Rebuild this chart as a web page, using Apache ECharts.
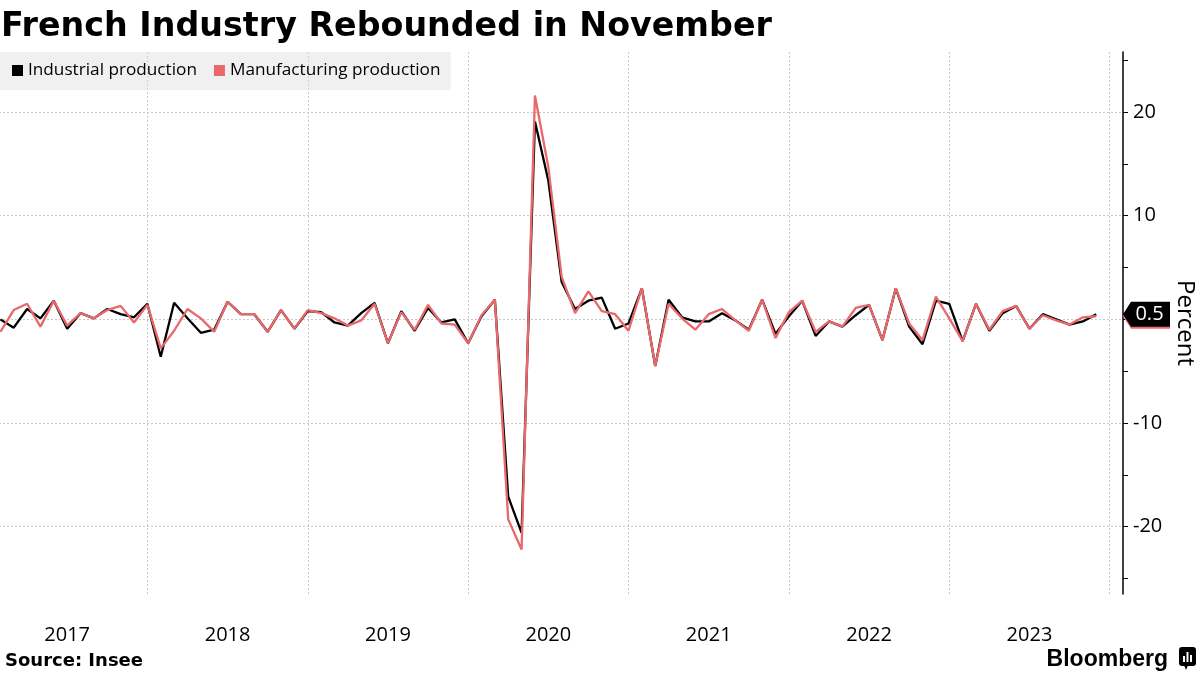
<!DOCTYPE html>
<html>
<head>
<meta charset="utf-8">
<script src="https://cdn.jsdelivr.net/npm/echarts@6/dist/echarts.min.js"></script>
<style>
  html, body { margin: 0; padding: 0; background: #fff; }
  #chart { width: 1200px; height: 675px; }
</style>
</head>
<body>
<div id="chart"></div>
<script>
// monthly % change, Jan 2017 .. Nov 2023
const years = [2017, 2018, 2019, 2020, 2021, 2022, 2023];
const industrial = [
  0.0, -0.8, 1.0, 0.1, 1.8, -0.9, 0.6, 0.1, 1.0, 0.5, 0.2, 1.5,
  -3.6, 1.6, 0.1, -1.3, -1.0, 1.7, 0.5, 0.5, -1.2, 0.9, -0.9, 0.8,
  0.7, -0.3, -0.6, 0.6, 1.6, -2.3, 0.8, -1.1, 1.1, -0.3, 0.0, -2.3,
  0.3, 1.9, -17.1, -20.6, 19.1, 13.4, 3.6, 1.0, 1.8, 2.1, -0.9, -0.4,
  3.0, -4.5, 1.9, 0.2, -0.2, -0.2, 0.6, -0.1, -1.0, 1.9, -1.4, 0.3,
  1.8, -1.6, -0.2, -0.7, 0.4, 1.4, -2.0, 3.0, -0.7, -2.4, 1.8, 1.5,
  -2.1, 1.5, -1.1, 0.6, 1.3, -0.9, 0.5, 0.0, -0.5, -0.2, 0.5
];
const manufacturing = [
  -1.2, 0.9, 1.5, -0.7, 1.8, -0.6, 0.6, 0.1, 0.9, 1.3, -0.3, 1.4,
  -2.8, -1.1, 1.0, 0.1, -1.2, 1.7, 0.5, 0.5, -1.2, 0.9, -0.9, 0.9,
  0.6, 0.1, -0.6, -0.1, 1.5, -2.3, 0.7, -1.0, 1.4, -0.4, -0.5, -2.3,
  0.4, 1.9, -19.3, -22.2, 21.6, 14.7, 4.1, 0.6, 2.7, 0.8, 0.5, -1.1,
  3.0, -4.5, 1.5, 0.1, -1.0, 0.5, 1.0, -0.1, -1.1, 1.9, -1.8, 0.7,
  1.8, -1.2, -0.2, -0.7, 1.1, 1.4, -2.0, 3.0, -0.4, -2.0, 2.2, 0.1,
  -2.1, 1.5, -1.0, 0.8, 1.3, -0.9, 0.4, -0.1, -0.5, 0.2, 0.3
];
const yTicks = [-25, -20, -15, -10, -5, 0, 5, 10, 15, 20, 25];

const BLACK = '#000000';
const PINK = '#e8686c';
const X_MAX = 85; // months since Jan 2017 (point k = end of month k)
const Y_MIN = -26.5, Y_MAX = 25.8;

const toPoints = (arr) => arr.map((v, i) => [i + 1, v]);
const last = (arr) => arr[arr.length - 1];

const tag = (color, value, z) => ({
  symbol: 'path://M0,12.5 L8,0 L47,0 L47,25 L8,25 Z',
  symbolSize: [47, 25],
  symbolOffset: [23.5, 0],
  z: z,
  itemStyle: { color: color },
  label: {
    show: true, position: 'inside', offset: [3, 0],
    color: '#fff', fontSize: 20, fontFamily: 'Open Sans',
    formatter: (p) => p.value.toFixed(1)
  },
  data: [{ coord: [X_MAX, value], value: value }]
});

const chart = echarts.init(document.getElementById('chart'));
const gridLine = { color: '#c9c9c9', width: 1, type: [2, 2] };

const option = {
  animation: false,
  backgroundColor: '#fff',
  title: [
    {
      text: 'French Industry Rebounded in November', left: 1, top: 11, padding: 0,
      textStyle: { fontFamily: 'DejaVu Sans', fontWeight: 'bold', fontSize: 33.3, color: '#000' }
    },
    {
      text: 'Source: Insee', left: 5, top: 652, padding: 0,
      textStyle: { fontFamily: 'DejaVu Sans', fontWeight: 'bold', fontSize: 18, color: '#000' }
    },
    {
      text: 'Bloomberg', right: 32, top: 648, padding: 0,
      textStyle: { fontFamily: 'Liberation Sans', fontWeight: 'bold', fontSize: 23, color: '#000' }
    }
  ],
  legend: {
    left: 0, top: 52,
    padding: [10, 10, 11, 12],
    backgroundColor: 'rgba(222,222,222,0.45)',
    itemWidth: 11, itemHeight: 11, itemGap: 17,
    icon: 'rect',
    textStyle: { fontFamily: 'Open Sans', fontSize: 17.2, color: '#000' },
    data: ['Industrial production', 'Manufacturing production']
  },
  grid: { left: -13, right: 77, top: 52, bottom: 81, outerBoundsMode: 'none' },
  xAxis: [
    {
      type: 'value', min: 0, max: X_MAX, interval: 6, position: 'bottom',
      axisLine: { show: false, onZero: false }, axisTick: { show: false }, splitLine: { show: false },
      axisLabel: {
        fontFamily: 'Open Sans', fontSize: 20, color: '#000', margin: 31,
        formatter: (v) => (v % 12 === 6 ? String(years[(v - 6) / 12]) : '')
      }
    },
    {
      type: 'value', min: 0, max: X_MAX, interval: 12, position: 'top',
      axisLine: { show: false, onZero: false }, axisTick: { show: false }, axisLabel: { show: false },
      splitLine: { show: true, showMinLine: false, showMaxLine: false, lineStyle: gridLine }
    }
  ],
  yAxis: [
    {
      type: 'value', position: 'right', min: Y_MIN, max: Y_MAX,
      name: 'Percent', nameLocation: 'middle', nameRotate: -90, nameGap: 50,
      nameTextStyle: { fontFamily: 'Open Sans', fontSize: 24, color: '#000' },
      axisLine: { show: true, onZero: false, lineStyle: { color: '#000', width: 1.5 } },
      axisTick: { show: false },
      axisLabel: {
        showMinLabel: false, showMaxLabel: false, margin: 10,
        fontFamily: 'Open Sans', fontSize: 20, color: '#000'
      },
      splitLine: { show: true, showMinLine: false, showMaxLine: false, lineStyle: gridLine }
    },
    {
      // tick marks every 5, drawn on the right edge of the plot
      type: 'value', position: 'left', offset: -1136, min: Y_MIN, max: Y_MAX,
      axisLine: { show: false, onZero: false }, axisLabel: { show: false }, splitLine: { show: false },
      axisTick: { show: true, inside: true, length: 5, customValues: yTicks, lineStyle: { color: '#000', width: 1 } }
    }
  ],
  series: [
    {
      name: 'Industrial production', type: 'line', xAxisIndex: 0, yAxisIndex: 0,
      data: toPoints(industrial), showSymbol: false, symbol: 'none',
      lineStyle: { color: BLACK, width: 2.3 }, itemStyle: { color: BLACK },
      z: 2,
      markPoint: tag(BLACK, last(industrial), 8)
    },
    {
      name: 'Manufacturing production', type: 'line', xAxisIndex: 0, yAxisIndex: 0,
      data: toPoints(manufacturing), showSymbol: false, symbol: 'none',
      lineStyle: { color: PINK, width: 2.3 }, itemStyle: { color: PINK },
      z: 3,
      markPoint: tag(PINK, last(manufacturing), 6)
    }
  ],
  graphic: [
    {
      type: 'group', right: 4, top: 647,
      children: [
        { type: 'rect', shape: { x: 0, y: 0, width: 17, height: 19, r: 3 }, style: { fill: '#000' } },
        { type: 'polygon', shape: { points: [[5, 18], [9, 18], [7, 23]] }, style: { fill: '#000' } },
        { type: 'rect', shape: { x: 4, y: 9, width: 2, height: 6 }, style: { fill: '#fff' } },
        { type: 'rect', shape: { x: 7.5, y: 5, width: 2, height: 10 }, style: { fill: '#fff' } },
        { type: 'rect', shape: { x: 11, y: 8, width: 2, height: 7 }, style: { fill: '#fff' } }
      ]
    }
  ]
};

chart.setOption(option);
</script>
</body>
</html>
